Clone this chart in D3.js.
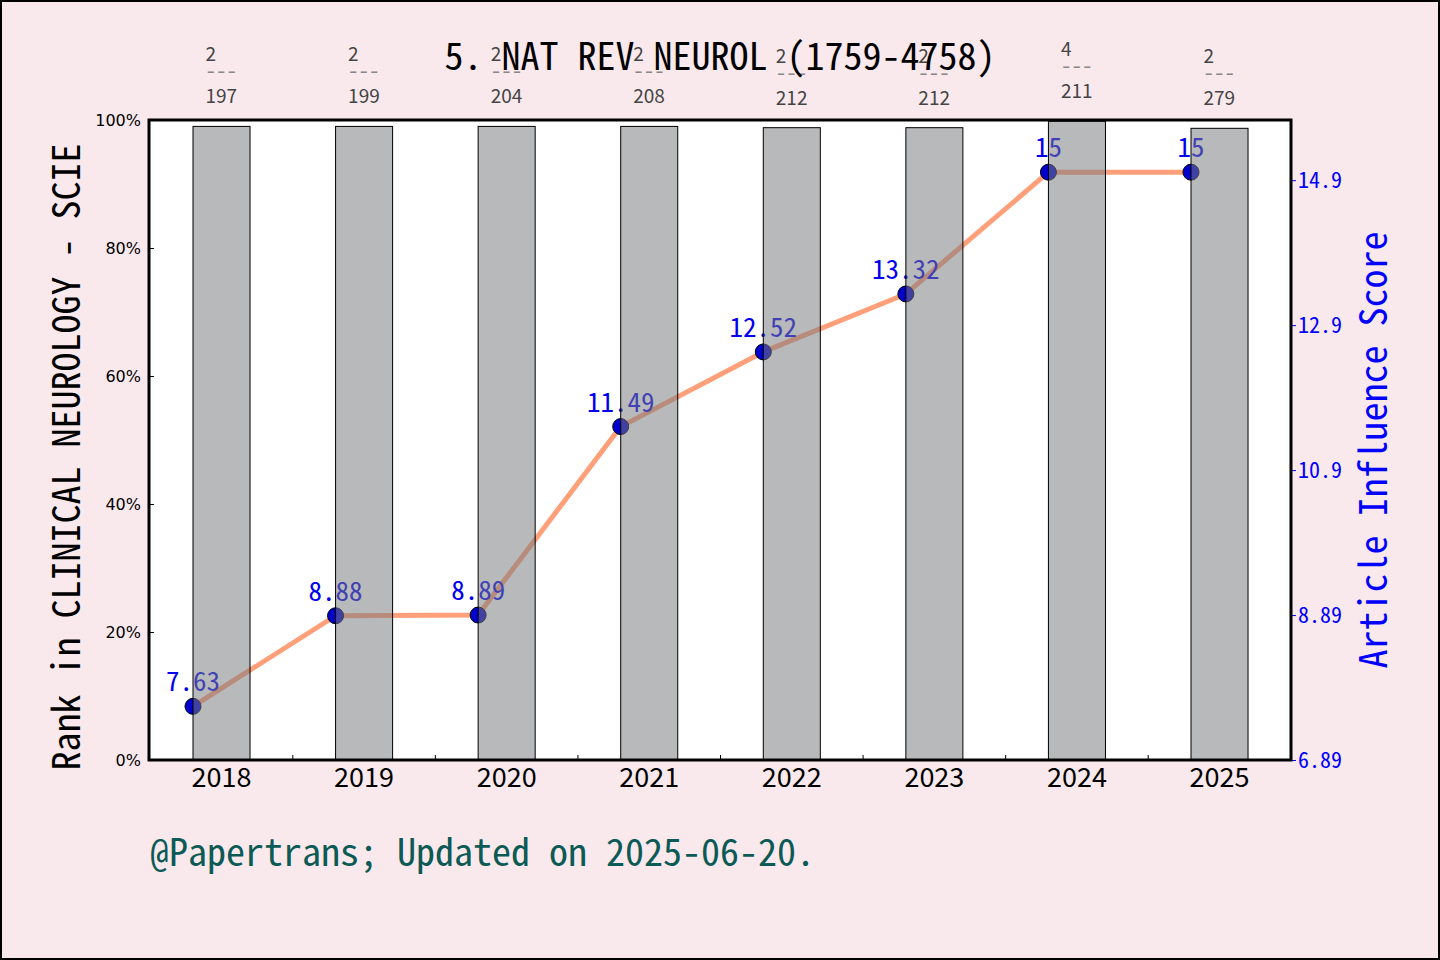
<!DOCTYPE html>
<html><head><meta charset="utf-8">
<script src="https://cdn.jsdelivr.net/npm/d3@7"></script>
<style>html,body{margin:0;padding:0;background:#F9E9EC;}svg{display:block;}</style>
</head><body>
<svg id="c" width="1440" height="960"></svg>
<script>
const years = ["2018","2019","2020","2021","2022","2023","2024","2025"];
const rankShare = [0.990, 0.990, 0.990, 0.990, 0.988, 0.988, 0.998, 0.987];
const ranks = [2, 2, 2, 2, 2, 2, 4, 2];
const totals = [197, 199, 204, 208, 212, 212, 211, 279];
const ais = [7.63, 8.88, 8.89, 11.49, 12.52, 13.32, 15, 15];
const leftTicks = [0, 0.2, 0.4, 0.6, 0.8, 1.0];
const rightTicks = [6.89, 8.89, 10.89, 12.89, 14.89];
const title = "5. NAT REV NEUROL (1759-4758)";
const leftLabel = "Rank in CLINICAL NEUROLOGY - SCIE";
const rightLabel = "Article Influence Score";
const footer = "@Papertrans; Updated on 2025-06-20.";

const MONO = "'Noto Sans Mono CJK SC','Noto Sans Mono CJK JP','DejaVu Sans Mono',monospace";
const CJK = "'Noto Sans CJK SC','Noto Sans',sans-serif";

const svg = d3.select("#c");
const L = 149, R = 1291, T = 120, B = 760;
const x = d3.scaleLinear().domain([-0.3086, 7.7014]).range([L, R]);
const yL = d3.scaleLinear().domain([0, 1]).range([B, T]);
const yR = d3.scaleLinear().domain([6.89, 15.72]).range([B, T]);
const bw = 0.4;

svg.append("rect").attr("x",1).attr("y",1).attr("width",1438).attr("height",958)
  .attr("fill","#F9E9EC").attr("stroke","#000").attr("stroke-width",2);
svg.append("rect").attr("x",L).attr("y",T).attr("width",R-L).attr("height",B-T).attr("fill","#fff");

// line & points & value labels (under the bars)
const line = d3.line().x((d,i)=>x(i)).y(d=>yR(d));
svg.append("path").datum(ais).attr("d",line).attr("fill","none")
  .attr("stroke","#FFA07A").attr("stroke-width",5).attr("stroke-linejoin","round");
svg.selectAll("circle.pt").data(ais).join("circle").attr("class","pt")
  .attr("cx",(d,i)=>x(i)).attr("cy",d=>yR(d)).attr("r",8)
  .attr("fill","#0000CD").attr("stroke","#000").attr("stroke-width",1);
svg.selectAll("text.val").data(ais).join("text").attr("class","val")
  .attr("x",(d,i)=>x(i)).attr("y",d=>yR(d)-15).attr("text-anchor","middle")
  .attr("font-family",MONO).attr("font-size",27).attr("fill","#0000EE")
  .text(d=>String(d));

// bars (semi-transparent, on top)
svg.selectAll("rect.bar").data(rankShare).join("rect").attr("class","bar")
  .attr("x",(d,i)=>x(i)).attr("width",(d,i)=>x(i+bw)-x(i))
  .attr("y",d=>yL(d)).attr("height",d=>B-yL(d))
  .attr("fill","rgba(120,122,126,0.53)").attr("stroke","#000").attr("stroke-width",1);

// fraction labels above the plot
const fr = svg.selectAll("g.fr").data(rankShare).join("g").attr("class","fr")
  .attr("transform",(d,i)=>`translate(${x(i+bw/2)-16},${yL(d)-23})`)
  .attr("font-size",19);
fr.append("text").attr("y",-42).attr("font-family",CJK).attr("fill","#444").text((d,i)=>ranks[i]);
fr.append("text").attr("y",-25).attr("font-family",MONO).attr("font-size",21).attr("fill","#888").text("---");
fr.append("text").attr("y",0).attr("font-family",CJK).attr("fill","#444").text((d,i)=>totals[i]);

// x ticks (inward, between categories) and year labels
svg.selectAll("line.xt").data(d3.range(0,7)).join("line").attr("class","xt")
  .attr("x1",d=>x(d+0.7)).attr("x2",d=>x(d+0.7)).attr("y1",B).attr("y2",B-5)
  .attr("stroke","#000").attr("stroke-width",1);
svg.selectAll("text.yr").data(years).join("text").attr("class","yr")
  .attr("x",(d,i)=>x(i+bw/2)).attr("y",787).attr("text-anchor","middle")
  .attr("font-family",CJK).attr("font-size",27).attr("fill","#000").text(d=>d);

// left axis
const ax = svg.append("g").attr("transform",`translate(${L},0)`)
  .call(d3.axisLeft(yL).tickValues(leftTicks).tickFormat(d3.format(".0%")).tickSizeInner(-5).tickSizeOuter(0).tickPadding(8));
ax.select(".domain").remove();
ax.selectAll("text").attr("font-family","'DejaVu Sans',sans-serif").attr("font-size",16).attr("fill","#000");

// right axis
const ar = svg.append("g").attr("transform",`translate(${R},0)`)
  .call(d3.axisRight(yR).tickValues(rightTicks).tickFormat(d3.format(".3~g")).tickSizeInner(5).tickSizeOuter(0).tickPadding(2));
ar.select(".domain").remove();
ar.selectAll("line").attr("stroke","#0000FF");
ar.selectAll("text").attr("font-family",MONO).attr("font-size",22).attr("fill","#0000FF");

// frame
svg.append("rect").attr("x",L).attr("y",T).attr("width",R-L).attr("height",B-T)
  .attr("fill","none").attr("stroke","#000").attr("stroke-width",3);

// titles
svg.append("text").attr("x",720).attr("y",70).attr("text-anchor","middle")
  .attr("font-family",MONO).attr("font-size",38).attr("fill","#000").text(title);
svg.append("text").attr("transform","translate(80,457) rotate(-90)").attr("text-anchor","middle")
  .attr("font-family",MONO).attr("font-size",38).attr("fill","#000").text(leftLabel);
svg.append("text").attr("transform","translate(1387,450) rotate(-90)").attr("text-anchor","middle")
  .attr("font-family",MONO).attr("font-size",38).attr("fill","#0000FF").text(rightLabel);
svg.append("text").attr("x",150).attr("y",866)
  .attr("font-family",MONO).attr("font-size",38).attr("fill","#0C5A55").text(footer);
</script>
</body></html>
